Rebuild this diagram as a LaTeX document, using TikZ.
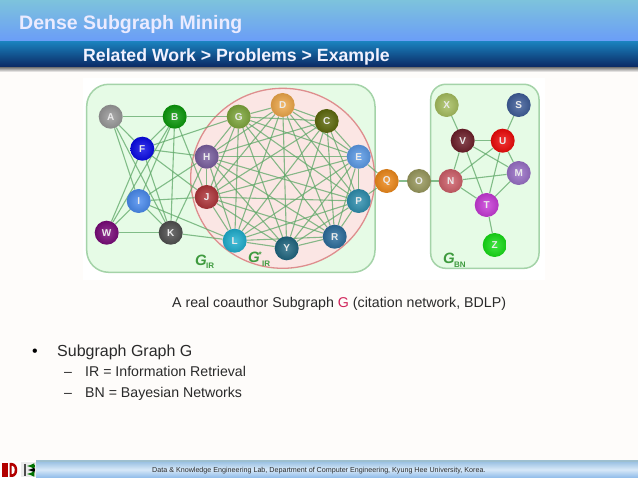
\documentclass[tikz,border=0pt]{standalone}
\usepackage{fontspec}
\setmainfont{Liberation Sans}
\usetikzlibrary{calc}
\pgfdeclarelayer{boxes}
\pgfdeclarelayer{links}
\pgfsetlayers{boxes,links,main}
\definecolor{pagebg}{HTML}{FEFCFA}
\definecolor{lnk}{HTML}{5FA868}
\definecolor{boxfill}{HTML}{E6FBE6}
\definecolor{boxline}{HTML}{A4D3A8}
\definecolor{pinkfill}{HTML}{FBE6E4}
\definecolor{pinkline}{HTML}{DE8E8E}
\definecolor{lblgreen}{HTML}{3E9A3E}
\definecolor{txt}{HTML}{2A2A2A}
\definecolor{headtop}{HTML}{7DC3DC}
\definecolor{headbot}{HTML}{6A9CF8}
\definecolor{bandtop}{HTML}{1A80BC}
\definecolor{bandbot}{HTML}{0A2560}
\definecolor{foottop}{HTML}{96BEE1}
\definecolor{footmid}{HTML}{D7E8F8}
\definecolor{footbot}{HTML}{8CB9E8}
\definecolor{footline}{HTML}{9DBFCF}
\definecolor{gred}{HTML}{D0245A}
\tikzset{
  author/.style={circle,minimum size=24pt,inner sep=0pt,inner color=#1!82!white,outer color=#1!88!black,text=white!92!black,font=\fontsize{10}{11}\selectfont\bfseries},
  link/.style={draw=lnk,line width=1.1pt,opacity=.75},
  grouplabel/.style={text=lblgreen,font=\fontsize{15}{16}\selectfont\bfseries\itshape,inner sep=0pt},
  sublabel/.style={text=lblgreen,font=\fontsize{8}{9}\selectfont\bfseries,inner sep=0pt},
  slidetext/.style={anchor=base west,inner sep=0pt,text=#1},
  slidetext/.default=txt
}
\begin{document}
\begin{tikzpicture}[x=1pt,y=-1pt]
\useasboundingbox (0,0) rectangle (638,478);
\begin{pgfonlayer}{boxes}
\fill[pagebg] (0,0) rectangle (638,478);
% picture backdrop
\fill[white] (83,78) rectangle (545,280);
% groups
\filldraw[fill=boxfill,draw=boxline,line width=1.5pt,rounded corners=22pt] (86.7,84.3) rectangle (375,272.3);
\filldraw[fill=pinkfill,draw=pinkline,line width=1.3pt] (282.7,178.3) ellipse [x radius=92,y radius=90];
\filldraw[fill=boxfill,draw=boxline,line width=1.5pt,rounded corners=15pt] (430.7,84.3) rectangle (539,268.3);
\end{pgfonlayer}
% header
\shade[top color=headtop,bottom color=headbot] (0,0) rectangle (638,42);
\shade[top color=bandtop,bottom color=bandbot] (0,42) rectangle (638,68);
\shade[top color=black!45,bottom color=pagebg] (0,68) rectangle (638,72);
\node[slidetext=white!92!blue,font=\fontsize{19.5}{21}\selectfont\bfseries] (title) at (19,30) {Dense Subgraph Mining};
\node[slidetext=white!95!blue,font=\fontsize{17.7}{19}\selectfont\bfseries] (subtitle) at (83,62) {Related Work > Problems > Example};
% nodes
\foreach \n/\x/\y/\col in {
 A/110.7/116.7/9A9A9A,B/174.7/116.7/0B9A0B,G/238.7/116.7/7FA83C,
 D/282.7/105/F0A94A,C/326.7/121/5E6A0C,E/358.7/156.7/5B9BE8,
 P/358.7/201/2E8FAF,R/334.7/236.7/2C6E9E,Y/286.7/248.3/1F6680,
 L/234.7/240.7/1FB0D0,J/206.7/197/B0353A,H/206.7/156.7/7A5FA0,
 F/142.3/148.7/0A0AE8,I/138.7/201/4A8CF0,W/106.7/232.7/7A0A7A,K/170.7/232.7/505050,
 Q/386.7/181/F08A1A,O/419/181/9A9A5E,N/450.7/181/D0606A,
 X/446.7/105/A8C060,S/518.7/105/3F5E9A,V/462.7/140.7/6E1F2A,
 U/502.7/140.7/F00A0A,M/518.7/173/9A70C8,T/486.7/205/C83AD8,Z/494.7/245/18E018}
 {\definecolor{ballcol}{HTML}{\col}\node[author=ballcol] (\n) at (\x,\y) {\n};}
% links
\begin{pgfonlayer}{links}
\foreach \a/\rest in {
 G/{D,C,E,P,R,Y,L,J,H},D/{C,E,P,R,Y,L,J,H},C/{E,P,R,Y,L,J,H},E/{P,R,Y,L,J,H},
 P/{R,Y,L,J,H},R/{Y,L,J,H},Y/{L,J,H},L/{J,H},J/{H}}
 {\foreach \b in \rest {\draw[link] (\a) -- (\b);}}
\foreach \a/\b in {A/B,B/G,A/F,A/K,A/I,B/F,B/I,B/W,B/K,B/J,F/W,F/K,F/H,F/J,F/G,I/H,I/J,I/K,I/W,I/L,
 W/K,K/L,K/H,
 E/Q,P/Q,Q/O,O/N,X/V,S/U,V/U,V/N,V/T,V/M,U/N,U/T,U/M,N/M,N/T,M/T,T/Z}
 {\draw[link] (\a) -- (\b);}
\end{pgfonlayer}
% group labels
\node[grouplabel,anchor=base west] (gir) at (195,266) {G};
\node[sublabel,anchor=base west] (girsub) at (206,269) {IR};
\node[grouplabel,anchor=base west] (gstar) at (248,263) {G};
\node[text=lblgreen,font=\fontsize{8}{9}\selectfont\bfseries,inner sep=0pt,anchor=base west] (gstarmark) at (258.5,258) {*};
\node[sublabel,anchor=base west] (gstarsub) at (262,267) {IR};
\node[grouplabel,anchor=base west] (gbn) at (443,264) {G};
\node[sublabel,anchor=base west] (gbnsub) at (454,268) {BN};
% texts
\node[slidetext,font=\fontsize{14.2}{16}\selectfont] (caption) at (172,307.5) {A real coauthor Subgraph \textcolor{gred}{G} (citation network, BDLP)};
\node[slidetext=black,font=\fontsize{16}{18}\selectfont] (bul) at (32,357) {•};
\node[slidetext,font=\fontsize{16}{18}\selectfont] (b1) at (57,357) {Subgraph Graph G};
\node[slidetext,font=\fontsize{14.15}{16}\selectfont] (d1) at (64,377) {–};
\node[slidetext,font=\fontsize{14.15}{16}\selectfont] (s1) at (85,377) {IR = Information Retrieval};
\node[slidetext,font=\fontsize{14.15}{16}\selectfont] (d2) at (64,398) {–};
\node[slidetext,font=\fontsize{14.15}{16}\selectfont] (s2) at (85,398) {BN = Bayesian Networks};
% footer
\fill[white] (0,461) rectangle (36,478);
\shade[top color=foottop,bottom color=footbot,middle color=footmid] (36,461) rectangle (638,478);
\fill[footline] (36,460.5) rectangle (638,462);
\node[slidetext,font=\fontsize{7.15}{9}\selectfont] (foot) at (152,473) {Data \& Knowledge Engineering Lab, Department of Computer Engineering, Kyung Hee University, Korea.};
% logo
\fill[red!70!black] (2,463) rectangle (8,477);
\fill[red!70!black] (9.5,463) -- (12,463) .. controls (19,463) and (19,477) .. (12,477) -- (9.5,477) -- cycle;
\fill[white] (11.5,466) -- (12.5,466) .. controls (15.5,466) and (15.5,474) .. (12.5,474) -- (11.5,474) -- cycle;
\fill[gray!15] (21,462) rectangle (36,477);
\draw[green!45!black,line width=1.5pt,-latex] (34,466) -- (27,466);
\draw[black,line width=1.3pt,-latex] (34,470) -- (28,470);
\draw[green!45!black,line width=1.5pt,-latex] (33,474) -- (27,474);
\draw[black!70,line width=1.2pt] (25,464) -- (25,476);
\end{tikzpicture}
\end{document}
